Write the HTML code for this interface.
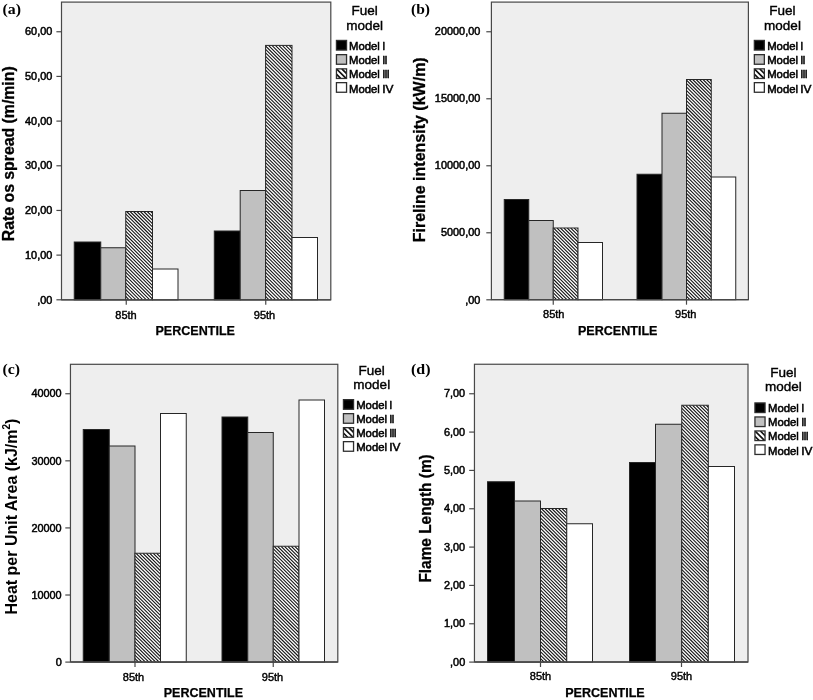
<!DOCTYPE html>
<html lang="en"><head><meta charset="utf-8"><title>Fire behaviour by fuel model</title>
<style>html,body{margin:0;padding:0;background:#fff}svg{display:block}text{font-family:"Liberation Sans", sans-serif;fill:#000}.s{font-family:"Liberation Serif", serif;font-weight:bold}.b{font-weight:bold}</style>
</head><body>
<svg width="813" height="700" viewBox="0 0 813 700">
<rect width="813" height="700" fill="#fff"/>
<g id="chart-a">
<rect x="61.5" y="2.1" width="269.3" height="297.7" fill="#eeeeee" stroke="#484848" stroke-width="1.2"/>
<rect x="74.25" y="242" width="26.5" height="57.8" fill="#000" stroke="#262626" stroke-width="1"/>
<rect x="100.75" y="247.75" width="25" height="52.05" fill="#c0c0c0" stroke="#262626" stroke-width="1"/>
<clipPath id="k1"><rect x="125.75" y="211.5" width="26.75" height="88.3"/></clipPath>
<rect x="125.75" y="211.5" width="26.75" height="88.3" fill="#fff"/>
<path clip-path="url(#k1)" d="M37.45 211.5l88.3 88.3M40.88 211.5l88.3 88.3M44.31 211.5l88.3 88.3M47.74 211.5l88.3 88.3M51.17 211.5l88.3 88.3M54.6 211.5l88.3 88.3M58.03 211.5l88.3 88.3M61.46 211.5l88.3 88.3M64.89 211.5l88.3 88.3M68.32 211.5l88.3 88.3M71.75 211.5l88.3 88.3M75.18 211.5l88.3 88.3M78.61 211.5l88.3 88.3M82.04 211.5l88.3 88.3M85.47 211.5l88.3 88.3M88.9 211.5l88.3 88.3M92.33 211.5l88.3 88.3M95.76 211.5l88.3 88.3M99.19 211.5l88.3 88.3M102.62 211.5l88.3 88.3M106.05 211.5l88.3 88.3M109.48 211.5l88.3 88.3M112.91 211.5l88.3 88.3M116.34 211.5l88.3 88.3M119.77 211.5l88.3 88.3M123.2 211.5l88.3 88.3M126.63 211.5l88.3 88.3M130.06 211.5l88.3 88.3M133.49 211.5l88.3 88.3M136.92 211.5l88.3 88.3M140.35 211.5l88.3 88.3M143.78 211.5l88.3 88.3M147.21 211.5l88.3 88.3M150.64 211.5l88.3 88.3" stroke="#141414" stroke-width="1.08" fill="none"/>
<rect x="125.75" y="211.5" width="26.75" height="88.3" fill="none" stroke="#262626" stroke-width="1"/>
<rect x="152.5" y="269" width="25.5" height="30.8" fill="#fff" stroke="#262626" stroke-width="1"/>
<rect x="214.3" y="231" width="25.9" height="68.8" fill="#000" stroke="#262626" stroke-width="1"/>
<rect x="240.2" y="190.5" width="25.4" height="109.3" fill="#c0c0c0" stroke="#262626" stroke-width="1"/>
<clipPath id="k2"><rect x="265.6" y="45.4" width="26.4" height="254.4"/></clipPath>
<rect x="265.6" y="45.4" width="26.4" height="254.4" fill="#fff"/>
<path clip-path="url(#k2)" d="M11.2 45.4l254.4 254.4M14.63 45.4l254.4 254.4M18.06 45.4l254.4 254.4M21.49 45.4l254.4 254.4M24.92 45.4l254.4 254.4M28.35 45.4l254.4 254.4M31.78 45.4l254.4 254.4M35.21 45.4l254.4 254.4M38.64 45.4l254.4 254.4M42.07 45.4l254.4 254.4M45.5 45.4l254.4 254.4M48.93 45.4l254.4 254.4M52.36 45.4l254.4 254.4M55.79 45.4l254.4 254.4M59.22 45.4l254.4 254.4M62.65 45.4l254.4 254.4M66.08 45.4l254.4 254.4M69.51 45.4l254.4 254.4M72.94 45.4l254.4 254.4M76.37 45.4l254.4 254.4M79.8 45.4l254.4 254.4M83.23 45.4l254.4 254.4M86.66 45.4l254.4 254.4M90.09 45.4l254.4 254.4M93.52 45.4l254.4 254.4M96.95 45.4l254.4 254.4M100.38 45.4l254.4 254.4M103.81 45.4l254.4 254.4M107.24 45.4l254.4 254.4M110.67 45.4l254.4 254.4M114.1 45.4l254.4 254.4M117.53 45.4l254.4 254.4M120.96 45.4l254.4 254.4M124.39 45.4l254.4 254.4M127.82 45.4l254.4 254.4M131.25 45.4l254.4 254.4M134.68 45.4l254.4 254.4M138.11 45.4l254.4 254.4M141.54 45.4l254.4 254.4M144.97 45.4l254.4 254.4M148.4 45.4l254.4 254.4M151.83 45.4l254.4 254.4M155.26 45.4l254.4 254.4M158.69 45.4l254.4 254.4M162.12 45.4l254.4 254.4M165.55 45.4l254.4 254.4M168.98 45.4l254.4 254.4M172.41 45.4l254.4 254.4M175.84 45.4l254.4 254.4M179.27 45.4l254.4 254.4M182.7 45.4l254.4 254.4M186.13 45.4l254.4 254.4M189.56 45.4l254.4 254.4M192.99 45.4l254.4 254.4M196.42 45.4l254.4 254.4M199.85 45.4l254.4 254.4M203.28 45.4l254.4 254.4M206.71 45.4l254.4 254.4M210.14 45.4l254.4 254.4M213.57 45.4l254.4 254.4M217 45.4l254.4 254.4M220.43 45.4l254.4 254.4M223.86 45.4l254.4 254.4M227.29 45.4l254.4 254.4M230.72 45.4l254.4 254.4M234.15 45.4l254.4 254.4M237.58 45.4l254.4 254.4M241.01 45.4l254.4 254.4M244.44 45.4l254.4 254.4M247.87 45.4l254.4 254.4M251.3 45.4l254.4 254.4M254.73 45.4l254.4 254.4M258.16 45.4l254.4 254.4M261.59 45.4l254.4 254.4M265.02 45.4l254.4 254.4M268.45 45.4l254.4 254.4M271.88 45.4l254.4 254.4M275.31 45.4l254.4 254.4M278.74 45.4l254.4 254.4M282.17 45.4l254.4 254.4M285.6 45.4l254.4 254.4M289.03 45.4l254.4 254.4" stroke="#141414" stroke-width="1.08" fill="none"/>
<rect x="265.6" y="45.4" width="26.4" height="254.4" fill="none" stroke="#262626" stroke-width="1"/>
<rect x="292" y="237.5" width="25.5" height="62.3" fill="#fff" stroke="#262626" stroke-width="1"/>
<line x1="61.5" y1="299.8" x2="330.8" y2="299.8" stroke="#484848" stroke-width="1.3"/>
<line x1="56.4" y1="299.8" x2="61.5" y2="299.8" stroke="#484848" stroke-width="1.2"/>
<text x="52.3" y="303.5" font-size="10.9" text-anchor="end" stroke="#000" stroke-width="0.5">,00</text>
<line x1="56.4" y1="255.12" x2="61.5" y2="255.12" stroke="#484848" stroke-width="1.2"/>
<text x="52.3" y="258.82" font-size="10.9" text-anchor="end" stroke="#000" stroke-width="0.5">10,00</text>
<line x1="56.4" y1="210.45" x2="61.5" y2="210.45" stroke="#484848" stroke-width="1.2"/>
<text x="52.3" y="214.15" font-size="10.9" text-anchor="end" stroke="#000" stroke-width="0.5">20,00</text>
<line x1="56.4" y1="165.78" x2="61.5" y2="165.78" stroke="#484848" stroke-width="1.2"/>
<text x="52.3" y="169.48" font-size="10.9" text-anchor="end" stroke="#000" stroke-width="0.5">30,00</text>
<line x1="56.4" y1="121.1" x2="61.5" y2="121.1" stroke="#484848" stroke-width="1.2"/>
<text x="52.3" y="124.8" font-size="10.9" text-anchor="end" stroke="#000" stroke-width="0.5">40,00</text>
<line x1="56.4" y1="76.43" x2="61.5" y2="76.43" stroke="#484848" stroke-width="1.2"/>
<text x="52.3" y="80.13" font-size="10.9" text-anchor="end" stroke="#000" stroke-width="0.5">50,00</text>
<line x1="56.4" y1="31.75" x2="61.5" y2="31.75" stroke="#484848" stroke-width="1.2"/>
<text x="52.3" y="35.45" font-size="10.9" text-anchor="end" stroke="#000" stroke-width="0.5">60,00</text>
<line x1="126.25" y1="299.8" x2="126.25" y2="304.8" stroke="#484848" stroke-width="1.2"/>
<line x1="265.75" y1="299.8" x2="265.75" y2="304.8" stroke="#484848" stroke-width="1.2"/>
<text x="126" y="318.5" font-size="11" text-anchor="middle" stroke="#000" stroke-width="0.42">85th</text>
<text x="264.5" y="318.5" font-size="11" text-anchor="middle" stroke="#000" stroke-width="0.42">95th</text>
<text class="b" x="155.5" y="335.3" font-size="12.5" textLength="79.5" lengthAdjust="spacingAndGlyphs" stroke="#000" stroke-width="0.25">PERCENTILE</text>
<text x="364.6" y="15.3" font-size="13.5" text-anchor="middle" stroke="#000" stroke-width="0.4">Fuel</text>
<text x="364.6" y="29.5" font-size="13.5" text-anchor="middle" stroke="#000" stroke-width="0.4">model</text>
<rect x="336.45" y="40.45" width="10.1" height="9.6" fill="#000" stroke="#2e2e2e" stroke-width="1.3"/>
<text y="50.05" font-size="10.8" stroke="#000" stroke-width="0.5"><tspan x="349.1" textLength="30.8" lengthAdjust="spacingAndGlyphs">Model</tspan> <tspan x="382.2">I</tspan></text>
<rect x="336.45" y="54.65" width="10.1" height="9.6" fill="#c0c0c0" stroke="#2e2e2e" stroke-width="1.3"/>
<text y="64.15" font-size="10.8" stroke="#000" stroke-width="0.5"><tspan x="349.1" textLength="30.8" lengthAdjust="spacingAndGlyphs">Model</tspan> <tspan x="382.2" letter-spacing="-0.72">II</tspan></text>
<clipPath id="k3"><rect x="336.45" y="68.85" width="10.1" height="9.6"/></clipPath>
<rect x="336.45" y="68.85" width="10.1" height="9.6" fill="#fff"/>
<path clip-path="url(#k3)" d="M325.65 68.85l9.6 9.6M331.05 68.85l9.6 9.6M336.45 68.85l9.6 9.6M341.85 68.85l9.6 9.6" stroke="#141414" stroke-width="1.7" fill="none"/>
<rect x="336.45" y="68.85" width="10.1" height="9.6" fill="none" stroke="#2e2e2e" stroke-width="1.3"/>
<text y="78.3" font-size="10.8" stroke="#000" stroke-width="0.5"><tspan x="349.1" textLength="30.8" lengthAdjust="spacingAndGlyphs">Model</tspan> <tspan x="382.2" letter-spacing="-0.75">III</tspan></text>
<rect x="336.45" y="82.65" width="10.1" height="9.6" fill="#fff" stroke="#2e2e2e" stroke-width="1.3"/>
<text y="92.6" font-size="10.8" stroke="#000" stroke-width="0.5"><tspan x="349.1" textLength="30.8" lengthAdjust="spacingAndGlyphs">Model</tspan> <tspan x="382.2" textLength="11.2" lengthAdjust="spacingAndGlyphs">IV</tspan></text>
<text class="b" transform="translate(13.9 241.2) rotate(-90)" font-size="16" textLength="174.9" lengthAdjust="spacingAndGlyphs" stroke="#000" stroke-width="0.3">Rate os spread (m/min)</text>
<text class="s" x="2.5" y="13.5" font-size="15.5" textLength="18.5" lengthAdjust="spacingAndGlyphs">(a)</text>
</g>
<g id="chart-b">
<rect x="491.4" y="2.1" width="257" height="297.6" fill="#eeeeee" stroke="#484848" stroke-width="1.2"/>
<rect x="504.25" y="199.5" width="24.5" height="100.2" fill="#000" stroke="#262626" stroke-width="1"/>
<rect x="528.75" y="220.5" width="24.5" height="79.2" fill="#c0c0c0" stroke="#262626" stroke-width="1"/>
<clipPath id="k4"><rect x="553.25" y="228" width="24.75" height="71.7"/></clipPath>
<rect x="553.25" y="228" width="24.75" height="71.7" fill="#fff"/>
<path clip-path="url(#k4)" d="M481.55 228l71.7 71.7M484.98 228l71.7 71.7M488.41 228l71.7 71.7M491.84 228l71.7 71.7M495.27 228l71.7 71.7M498.7 228l71.7 71.7M502.13 228l71.7 71.7M505.56 228l71.7 71.7M508.99 228l71.7 71.7M512.42 228l71.7 71.7M515.85 228l71.7 71.7M519.28 228l71.7 71.7M522.71 228l71.7 71.7M526.14 228l71.7 71.7M529.57 228l71.7 71.7M533 228l71.7 71.7M536.43 228l71.7 71.7M539.86 228l71.7 71.7M543.29 228l71.7 71.7M546.72 228l71.7 71.7M550.15 228l71.7 71.7M553.58 228l71.7 71.7M557.01 228l71.7 71.7M560.44 228l71.7 71.7M563.87 228l71.7 71.7M567.3 228l71.7 71.7M570.73 228l71.7 71.7M574.16 228l71.7 71.7M577.59 228l71.7 71.7" stroke="#141414" stroke-width="1.08" fill="none"/>
<rect x="553.25" y="228" width="24.75" height="71.7" fill="none" stroke="#262626" stroke-width="1"/>
<rect x="578" y="242.5" width="24.5" height="57.2" fill="#fff" stroke="#262626" stroke-width="1"/>
<rect x="637" y="174.25" width="25" height="125.45" fill="#000" stroke="#262626" stroke-width="1"/>
<rect x="662" y="113.25" width="24.5" height="186.45" fill="#c0c0c0" stroke="#262626" stroke-width="1"/>
<clipPath id="k5"><rect x="686.5" y="79.5" width="24.75" height="220.2"/></clipPath>
<rect x="686.5" y="79.5" width="24.75" height="220.2" fill="#fff"/>
<path clip-path="url(#k5)" d="M466.3 79.5l220.2 220.2M469.73 79.5l220.2 220.2M473.16 79.5l220.2 220.2M476.59 79.5l220.2 220.2M480.02 79.5l220.2 220.2M483.45 79.5l220.2 220.2M486.88 79.5l220.2 220.2M490.31 79.5l220.2 220.2M493.74 79.5l220.2 220.2M497.17 79.5l220.2 220.2M500.6 79.5l220.2 220.2M504.03 79.5l220.2 220.2M507.46 79.5l220.2 220.2M510.89 79.5l220.2 220.2M514.32 79.5l220.2 220.2M517.75 79.5l220.2 220.2M521.18 79.5l220.2 220.2M524.61 79.5l220.2 220.2M528.04 79.5l220.2 220.2M531.47 79.5l220.2 220.2M534.9 79.5l220.2 220.2M538.33 79.5l220.2 220.2M541.76 79.5l220.2 220.2M545.19 79.5l220.2 220.2M548.62 79.5l220.2 220.2M552.05 79.5l220.2 220.2M555.48 79.5l220.2 220.2M558.91 79.5l220.2 220.2M562.34 79.5l220.2 220.2M565.77 79.5l220.2 220.2M569.2 79.5l220.2 220.2M572.63 79.5l220.2 220.2M576.06 79.5l220.2 220.2M579.49 79.5l220.2 220.2M582.92 79.5l220.2 220.2M586.35 79.5l220.2 220.2M589.78 79.5l220.2 220.2M593.21 79.5l220.2 220.2M596.64 79.5l220.2 220.2M600.07 79.5l220.2 220.2M603.5 79.5l220.2 220.2M606.93 79.5l220.2 220.2M610.36 79.5l220.2 220.2M613.79 79.5l220.2 220.2M617.22 79.5l220.2 220.2M620.65 79.5l220.2 220.2M624.08 79.5l220.2 220.2M627.51 79.5l220.2 220.2M630.94 79.5l220.2 220.2M634.37 79.5l220.2 220.2M637.8 79.5l220.2 220.2M641.23 79.5l220.2 220.2M644.66 79.5l220.2 220.2M648.09 79.5l220.2 220.2M651.52 79.5l220.2 220.2M654.95 79.5l220.2 220.2M658.38 79.5l220.2 220.2M661.81 79.5l220.2 220.2M665.24 79.5l220.2 220.2M668.67 79.5l220.2 220.2M672.1 79.5l220.2 220.2M675.53 79.5l220.2 220.2M678.96 79.5l220.2 220.2M682.39 79.5l220.2 220.2M685.82 79.5l220.2 220.2M689.25 79.5l220.2 220.2M692.68 79.5l220.2 220.2M696.11 79.5l220.2 220.2M699.54 79.5l220.2 220.2M702.97 79.5l220.2 220.2M706.4 79.5l220.2 220.2M709.83 79.5l220.2 220.2" stroke="#141414" stroke-width="1.08" fill="none"/>
<rect x="686.5" y="79.5" width="24.75" height="220.2" fill="none" stroke="#262626" stroke-width="1"/>
<rect x="711.25" y="177" width="24.5" height="122.7" fill="#fff" stroke="#262626" stroke-width="1"/>
<line x1="491.4" y1="299.7" x2="748.4" y2="299.7" stroke="#484848" stroke-width="1.3"/>
<line x1="486.3" y1="299.8" x2="491.4" y2="299.8" stroke="#484848" stroke-width="1.2"/>
<text x="480.3" y="303.5" font-size="10.9" text-anchor="end" stroke="#000" stroke-width="0.5">,00</text>
<line x1="486.3" y1="232.79" x2="491.4" y2="232.79" stroke="#484848" stroke-width="1.2"/>
<text x="480.3" y="236.49" font-size="10.9" text-anchor="end" stroke="#000" stroke-width="0.5">5000,00</text>
<line x1="486.3" y1="165.78" x2="491.4" y2="165.78" stroke="#484848" stroke-width="1.2"/>
<text x="480.3" y="169.48" font-size="10.9" text-anchor="end" stroke="#000" stroke-width="0.5">10000,00</text>
<line x1="486.3" y1="98.77" x2="491.4" y2="98.77" stroke="#484848" stroke-width="1.2"/>
<text x="480.3" y="102.47" font-size="10.9" text-anchor="end" stroke="#000" stroke-width="0.5">15000,00</text>
<line x1="486.3" y1="31.76" x2="491.4" y2="31.76" stroke="#484848" stroke-width="1.2"/>
<text x="480.3" y="35.46" font-size="10.9" text-anchor="end" stroke="#000" stroke-width="0.5">20000,00</text>
<line x1="553.25" y1="299.7" x2="553.25" y2="304.7" stroke="#484848" stroke-width="1.2"/>
<line x1="686.5" y1="299.7" x2="686.5" y2="304.7" stroke="#484848" stroke-width="1.2"/>
<text x="553.75" y="317.8" font-size="11" text-anchor="middle" stroke="#000" stroke-width="0.42">85th</text>
<text x="685.75" y="317.8" font-size="11" text-anchor="middle" stroke="#000" stroke-width="0.42">95th</text>
<text class="b" x="578" y="335.3" font-size="12.5" textLength="79.5" lengthAdjust="spacingAndGlyphs" stroke="#000" stroke-width="0.25">PERCENTILE</text>
<text x="782.5" y="15.3" font-size="13.5" text-anchor="middle" stroke="#000" stroke-width="0.4">Fuel</text>
<text x="782.5" y="29.5" font-size="13.5" text-anchor="middle" stroke="#000" stroke-width="0.4">model</text>
<rect x="754.35" y="40.45" width="10" height="9.6" fill="#000" stroke="#2e2e2e" stroke-width="1.3"/>
<text y="50.05" font-size="10.8" stroke="#000" stroke-width="0.5"><tspan x="767.2" textLength="30.8" lengthAdjust="spacingAndGlyphs">Model</tspan> <tspan x="800.3">I</tspan></text>
<rect x="754.35" y="54.65" width="10" height="9.6" fill="#c0c0c0" stroke="#2e2e2e" stroke-width="1.3"/>
<text y="64.15" font-size="10.8" stroke="#000" stroke-width="0.5"><tspan x="767.2" textLength="30.8" lengthAdjust="spacingAndGlyphs">Model</tspan> <tspan x="800.3" letter-spacing="-0.72">II</tspan></text>
<clipPath id="k6"><rect x="754.35" y="68.85" width="10" height="9.6"/></clipPath>
<rect x="754.35" y="68.85" width="10" height="9.6" fill="#fff"/>
<path clip-path="url(#k6)" d="M743.55 68.85l9.6 9.6M748.95 68.85l9.6 9.6M754.35 68.85l9.6 9.6M759.75 68.85l9.6 9.6" stroke="#141414" stroke-width="1.7" fill="none"/>
<rect x="754.35" y="68.85" width="10" height="9.6" fill="none" stroke="#2e2e2e" stroke-width="1.3"/>
<text y="78.3" font-size="10.8" stroke="#000" stroke-width="0.5"><tspan x="767.2" textLength="30.8" lengthAdjust="spacingAndGlyphs">Model</tspan> <tspan x="800.3" letter-spacing="-0.75">III</tspan></text>
<rect x="754.35" y="82.65" width="10" height="9.6" fill="#fff" stroke="#2e2e2e" stroke-width="1.3"/>
<text y="92.6" font-size="10.8" stroke="#000" stroke-width="0.5"><tspan x="767.2" textLength="30.8" lengthAdjust="spacingAndGlyphs">Model</tspan> <tspan x="800.3" textLength="11.2" lengthAdjust="spacingAndGlyphs">IV</tspan></text>
<text class="b" transform="translate(425 242.3) rotate(-90)" font-size="16" textLength="185" lengthAdjust="spacingAndGlyphs" stroke="#000" stroke-width="0.3">Fireline intensity (kW/m)</text>
<text class="s" x="411" y="13.5" font-size="15.5" textLength="19" lengthAdjust="spacingAndGlyphs">(b)</text>
</g>
<g id="chart-c">
<rect x="70.45" y="364.3" width="267.35" height="297.7" fill="#eeeeee" stroke="#484848" stroke-width="1.2"/>
<rect x="83.25" y="429.5" width="26" height="232.5" fill="#000" stroke="#262626" stroke-width="1"/>
<rect x="109.25" y="446" width="25.75" height="216" fill="#c0c0c0" stroke="#262626" stroke-width="1"/>
<clipPath id="k7"><rect x="135" y="553.25" width="25.5" height="108.75"/></clipPath>
<rect x="135" y="553.25" width="25.5" height="108.75" fill="#fff"/>
<path clip-path="url(#k7)" d="M26.25 553.25l108.75 108.75M29.68 553.25l108.75 108.75M33.11 553.25l108.75 108.75M36.54 553.25l108.75 108.75M39.97 553.25l108.75 108.75M43.4 553.25l108.75 108.75M46.83 553.25l108.75 108.75M50.26 553.25l108.75 108.75M53.69 553.25l108.75 108.75M57.12 553.25l108.75 108.75M60.55 553.25l108.75 108.75M63.98 553.25l108.75 108.75M67.41 553.25l108.75 108.75M70.84 553.25l108.75 108.75M74.27 553.25l108.75 108.75M77.7 553.25l108.75 108.75M81.13 553.25l108.75 108.75M84.56 553.25l108.75 108.75M87.99 553.25l108.75 108.75M91.42 553.25l108.75 108.75M94.85 553.25l108.75 108.75M98.28 553.25l108.75 108.75M101.71 553.25l108.75 108.75M105.14 553.25l108.75 108.75M108.57 553.25l108.75 108.75M112 553.25l108.75 108.75M115.43 553.25l108.75 108.75M118.86 553.25l108.75 108.75M122.29 553.25l108.75 108.75M125.72 553.25l108.75 108.75M129.15 553.25l108.75 108.75M132.58 553.25l108.75 108.75M136.01 553.25l108.75 108.75M139.44 553.25l108.75 108.75M142.87 553.25l108.75 108.75M146.3 553.25l108.75 108.75M149.73 553.25l108.75 108.75M153.16 553.25l108.75 108.75M156.59 553.25l108.75 108.75M160.02 553.25l108.75 108.75" stroke="#141414" stroke-width="1.08" fill="none"/>
<rect x="135" y="553.25" width="25.5" height="108.75" fill="none" stroke="#262626" stroke-width="1"/>
<rect x="160.5" y="413.5" width="25.75" height="248.5" fill="#fff" stroke="#262626" stroke-width="1"/>
<rect x="222" y="417" width="25.75" height="245" fill="#000" stroke="#262626" stroke-width="1"/>
<rect x="247.75" y="432.5" width="25.5" height="229.5" fill="#c0c0c0" stroke="#262626" stroke-width="1"/>
<clipPath id="k8"><rect x="273.25" y="546.25" width="25.75" height="115.75"/></clipPath>
<rect x="273.25" y="546.25" width="25.75" height="115.75" fill="#fff"/>
<path clip-path="url(#k8)" d="M157.5 546.25l115.75 115.75M160.93 546.25l115.75 115.75M164.36 546.25l115.75 115.75M167.79 546.25l115.75 115.75M171.22 546.25l115.75 115.75M174.65 546.25l115.75 115.75M178.08 546.25l115.75 115.75M181.51 546.25l115.75 115.75M184.94 546.25l115.75 115.75M188.37 546.25l115.75 115.75M191.8 546.25l115.75 115.75M195.23 546.25l115.75 115.75M198.66 546.25l115.75 115.75M202.09 546.25l115.75 115.75M205.52 546.25l115.75 115.75M208.95 546.25l115.75 115.75M212.38 546.25l115.75 115.75M215.81 546.25l115.75 115.75M219.24 546.25l115.75 115.75M222.67 546.25l115.75 115.75M226.1 546.25l115.75 115.75M229.53 546.25l115.75 115.75M232.96 546.25l115.75 115.75M236.39 546.25l115.75 115.75M239.82 546.25l115.75 115.75M243.25 546.25l115.75 115.75M246.68 546.25l115.75 115.75M250.11 546.25l115.75 115.75M253.54 546.25l115.75 115.75M256.97 546.25l115.75 115.75M260.4 546.25l115.75 115.75M263.83 546.25l115.75 115.75M267.26 546.25l115.75 115.75M270.69 546.25l115.75 115.75M274.12 546.25l115.75 115.75M277.55 546.25l115.75 115.75M280.98 546.25l115.75 115.75M284.41 546.25l115.75 115.75M287.84 546.25l115.75 115.75M291.27 546.25l115.75 115.75M294.7 546.25l115.75 115.75M298.13 546.25l115.75 115.75" stroke="#141414" stroke-width="1.08" fill="none"/>
<rect x="273.25" y="546.25" width="25.75" height="115.75" fill="none" stroke="#262626" stroke-width="1"/>
<rect x="299" y="400" width="25.5" height="262" fill="#fff" stroke="#262626" stroke-width="1"/>
<line x1="70.45" y1="662" x2="337.8" y2="662" stroke="#484848" stroke-width="1.3"/>
<line x1="65.3" y1="662.1" x2="70.45" y2="662.1" stroke="#484848" stroke-width="1.2"/>
<text x="61.7" y="665.8" font-size="10.9" text-anchor="end" stroke="#000" stroke-width="0.5">0</text>
<line x1="65.3" y1="595.01" x2="70.45" y2="595.01" stroke="#484848" stroke-width="1.2"/>
<text x="61.7" y="598.71" font-size="10.9" text-anchor="end" stroke="#000" stroke-width="0.5">10000</text>
<line x1="65.3" y1="527.92" x2="70.45" y2="527.92" stroke="#484848" stroke-width="1.2"/>
<text x="61.7" y="531.62" font-size="10.9" text-anchor="end" stroke="#000" stroke-width="0.5">20000</text>
<line x1="65.3" y1="460.83" x2="70.45" y2="460.83" stroke="#484848" stroke-width="1.2"/>
<text x="61.7" y="464.53" font-size="10.9" text-anchor="end" stroke="#000" stroke-width="0.5">30000</text>
<line x1="65.3" y1="393.74" x2="70.45" y2="393.74" stroke="#484848" stroke-width="1.2"/>
<text x="61.7" y="397.44" font-size="10.9" text-anchor="end" stroke="#000" stroke-width="0.5">40000</text>
<line x1="135" y1="662" x2="135" y2="667" stroke="#484848" stroke-width="1.2"/>
<line x1="273.25" y1="662" x2="273.25" y2="667" stroke="#484848" stroke-width="1.2"/>
<text x="133.5" y="680.75" font-size="11" text-anchor="middle" stroke="#000" stroke-width="0.42">85th</text>
<text x="272.5" y="680.75" font-size="11" text-anchor="middle" stroke="#000" stroke-width="0.42">95th</text>
<text class="b" x="163.75" y="697.3" font-size="12.5" textLength="79.25" lengthAdjust="spacingAndGlyphs" stroke="#000" stroke-width="0.25">PERCENTILE</text>
<text x="371.75" y="374.5" font-size="13.5" text-anchor="middle" stroke="#000" stroke-width="0.4">Fuel</text>
<text x="371.75" y="388.5" font-size="13.5" text-anchor="middle" stroke="#000" stroke-width="0.4">model</text>
<rect x="343.45" y="399.65" width="10.1" height="9.6" fill="#000" stroke="#2e2e2e" stroke-width="1.3"/>
<text y="408.8" font-size="10.8" stroke="#000" stroke-width="0.5"><tspan x="356.2" textLength="30.8" lengthAdjust="spacingAndGlyphs">Model</tspan> <tspan x="389.3">I</tspan></text>
<rect x="343.45" y="413.65" width="10.1" height="9.6" fill="#c0c0c0" stroke="#2e2e2e" stroke-width="1.3"/>
<text y="422.9" font-size="10.8" stroke="#000" stroke-width="0.5"><tspan x="356.2" textLength="30.8" lengthAdjust="spacingAndGlyphs">Model</tspan> <tspan x="389.3" letter-spacing="-0.72">II</tspan></text>
<clipPath id="k9"><rect x="343.45" y="427.65" width="10.1" height="9.6"/></clipPath>
<rect x="343.45" y="427.65" width="10.1" height="9.6" fill="#fff"/>
<path clip-path="url(#k9)" d="M332.65 427.65l9.6 9.6M338.05 427.65l9.6 9.6M343.45 427.65l9.6 9.6M348.85 427.65l9.6 9.6" stroke="#141414" stroke-width="1.7" fill="none"/>
<rect x="343.45" y="427.65" width="10.1" height="9.6" fill="none" stroke="#2e2e2e" stroke-width="1.3"/>
<text y="437.2" font-size="10.8" stroke="#000" stroke-width="0.5"><tspan x="356.2" textLength="30.8" lengthAdjust="spacingAndGlyphs">Model</tspan> <tspan x="389.3" letter-spacing="-0.75">III</tspan></text>
<rect x="343.45" y="441.65" width="10.1" height="9.6" fill="#fff" stroke="#2e2e2e" stroke-width="1.3"/>
<text y="451.4" font-size="10.8" stroke="#000" stroke-width="0.5"><tspan x="356.2" textLength="30.8" lengthAdjust="spacingAndGlyphs">Model</tspan> <tspan x="389.3" textLength="11.2" lengthAdjust="spacingAndGlyphs">IV</tspan></text>
<text class="b" transform="translate(17.4 614.5) rotate(-90)" font-size="16" textLength="195.9" lengthAdjust="spacingAndGlyphs">Heat per Unit Area (kJ/m<tspan font-size="10" dy="-7.6">2</tspan><tspan dy="7.6">)</tspan></text>
<text class="s" x="2.5" y="373.5" font-size="15.5" textLength="17.5" lengthAdjust="spacingAndGlyphs">(c)</text>
</g>
<g id="chart-d">
<rect x="474.45" y="364.25" width="273.55" height="297.75" fill="#eeeeee" stroke="#484848" stroke-width="1.2"/>
<rect x="487.5" y="481.75" width="27" height="180.25" fill="#000" stroke="#262626" stroke-width="1"/>
<rect x="514.5" y="501" width="26" height="161" fill="#c0c0c0" stroke="#262626" stroke-width="1"/>
<clipPath id="k10"><rect x="540.5" y="508.5" width="26.25" height="153.5"/></clipPath>
<rect x="540.5" y="508.5" width="26.25" height="153.5" fill="#fff"/>
<path clip-path="url(#k10)" d="M387 508.5l153.5 153.5M390.43 508.5l153.5 153.5M393.86 508.5l153.5 153.5M397.29 508.5l153.5 153.5M400.72 508.5l153.5 153.5M404.15 508.5l153.5 153.5M407.58 508.5l153.5 153.5M411.01 508.5l153.5 153.5M414.44 508.5l153.5 153.5M417.87 508.5l153.5 153.5M421.3 508.5l153.5 153.5M424.73 508.5l153.5 153.5M428.16 508.5l153.5 153.5M431.59 508.5l153.5 153.5M435.02 508.5l153.5 153.5M438.45 508.5l153.5 153.5M441.88 508.5l153.5 153.5M445.31 508.5l153.5 153.5M448.74 508.5l153.5 153.5M452.17 508.5l153.5 153.5M455.6 508.5l153.5 153.5M459.03 508.5l153.5 153.5M462.46 508.5l153.5 153.5M465.89 508.5l153.5 153.5M469.32 508.5l153.5 153.5M472.75 508.5l153.5 153.5M476.18 508.5l153.5 153.5M479.61 508.5l153.5 153.5M483.04 508.5l153.5 153.5M486.47 508.5l153.5 153.5M489.9 508.5l153.5 153.5M493.33 508.5l153.5 153.5M496.76 508.5l153.5 153.5M500.19 508.5l153.5 153.5M503.62 508.5l153.5 153.5M507.05 508.5l153.5 153.5M510.48 508.5l153.5 153.5M513.91 508.5l153.5 153.5M517.34 508.5l153.5 153.5M520.77 508.5l153.5 153.5M524.2 508.5l153.5 153.5M527.63 508.5l153.5 153.5M531.06 508.5l153.5 153.5M534.49 508.5l153.5 153.5M537.92 508.5l153.5 153.5M541.35 508.5l153.5 153.5M544.78 508.5l153.5 153.5M548.21 508.5l153.5 153.5M551.64 508.5l153.5 153.5M555.07 508.5l153.5 153.5M558.5 508.5l153.5 153.5M561.93 508.5l153.5 153.5M565.36 508.5l153.5 153.5" stroke="#141414" stroke-width="1.08" fill="none"/>
<rect x="540.5" y="508.5" width="26.25" height="153.5" fill="none" stroke="#262626" stroke-width="1"/>
<rect x="566.75" y="523.75" width="25.75" height="138.25" fill="#fff" stroke="#262626" stroke-width="1"/>
<rect x="629.5" y="462.5" width="26" height="199.5" fill="#000" stroke="#262626" stroke-width="1"/>
<rect x="655.5" y="424.25" width="26.25" height="237.75" fill="#c0c0c0" stroke="#262626" stroke-width="1"/>
<clipPath id="k11"><rect x="681.75" y="405.25" width="26.55" height="256.75"/></clipPath>
<rect x="681.75" y="405.25" width="26.55" height="256.75" fill="#fff"/>
<path clip-path="url(#k11)" d="M425 405.25l256.75 256.75M428.43 405.25l256.75 256.75M431.86 405.25l256.75 256.75M435.29 405.25l256.75 256.75M438.72 405.25l256.75 256.75M442.15 405.25l256.75 256.75M445.58 405.25l256.75 256.75M449.01 405.25l256.75 256.75M452.44 405.25l256.75 256.75M455.87 405.25l256.75 256.75M459.3 405.25l256.75 256.75M462.73 405.25l256.75 256.75M466.16 405.25l256.75 256.75M469.59 405.25l256.75 256.75M473.02 405.25l256.75 256.75M476.45 405.25l256.75 256.75M479.88 405.25l256.75 256.75M483.31 405.25l256.75 256.75M486.74 405.25l256.75 256.75M490.17 405.25l256.75 256.75M493.6 405.25l256.75 256.75M497.03 405.25l256.75 256.75M500.46 405.25l256.75 256.75M503.89 405.25l256.75 256.75M507.32 405.25l256.75 256.75M510.75 405.25l256.75 256.75M514.18 405.25l256.75 256.75M517.61 405.25l256.75 256.75M521.04 405.25l256.75 256.75M524.47 405.25l256.75 256.75M527.9 405.25l256.75 256.75M531.33 405.25l256.75 256.75M534.76 405.25l256.75 256.75M538.19 405.25l256.75 256.75M541.62 405.25l256.75 256.75M545.05 405.25l256.75 256.75M548.48 405.25l256.75 256.75M551.91 405.25l256.75 256.75M555.34 405.25l256.75 256.75M558.77 405.25l256.75 256.75M562.2 405.25l256.75 256.75M565.63 405.25l256.75 256.75M569.06 405.25l256.75 256.75M572.49 405.25l256.75 256.75M575.92 405.25l256.75 256.75M579.35 405.25l256.75 256.75M582.78 405.25l256.75 256.75M586.21 405.25l256.75 256.75M589.64 405.25l256.75 256.75M593.07 405.25l256.75 256.75M596.5 405.25l256.75 256.75M599.93 405.25l256.75 256.75M603.36 405.25l256.75 256.75M606.79 405.25l256.75 256.75M610.22 405.25l256.75 256.75M613.65 405.25l256.75 256.75M617.08 405.25l256.75 256.75M620.51 405.25l256.75 256.75M623.94 405.25l256.75 256.75M627.37 405.25l256.75 256.75M630.8 405.25l256.75 256.75M634.23 405.25l256.75 256.75M637.66 405.25l256.75 256.75M641.09 405.25l256.75 256.75M644.52 405.25l256.75 256.75M647.95 405.25l256.75 256.75M651.38 405.25l256.75 256.75M654.81 405.25l256.75 256.75M658.24 405.25l256.75 256.75M661.67 405.25l256.75 256.75M665.1 405.25l256.75 256.75M668.53 405.25l256.75 256.75M671.96 405.25l256.75 256.75M675.39 405.25l256.75 256.75M678.82 405.25l256.75 256.75M682.25 405.25l256.75 256.75M685.68 405.25l256.75 256.75M689.11 405.25l256.75 256.75M692.54 405.25l256.75 256.75M695.97 405.25l256.75 256.75M699.4 405.25l256.75 256.75M702.83 405.25l256.75 256.75M706.26 405.25l256.75 256.75" stroke="#141414" stroke-width="1.08" fill="none"/>
<rect x="681.75" y="405.25" width="26.55" height="256.75" fill="none" stroke="#262626" stroke-width="1"/>
<rect x="708.3" y="466.5" width="26.2" height="195.5" fill="#fff" stroke="#262626" stroke-width="1"/>
<line x1="474.45" y1="662" x2="748" y2="662" stroke="#484848" stroke-width="1.3"/>
<line x1="469.2" y1="662.1" x2="474.45" y2="662.1" stroke="#484848" stroke-width="1.2"/>
<text x="465.2" y="665.8" font-size="10.9" text-anchor="end" stroke="#000" stroke-width="0.5">,00</text>
<line x1="469.2" y1="623.76" x2="474.45" y2="623.76" stroke="#484848" stroke-width="1.2"/>
<text x="465.2" y="627.46" font-size="10.9" text-anchor="end" stroke="#000" stroke-width="0.5">1,00</text>
<line x1="469.2" y1="585.43" x2="474.45" y2="585.43" stroke="#484848" stroke-width="1.2"/>
<text x="465.2" y="589.13" font-size="10.9" text-anchor="end" stroke="#000" stroke-width="0.5">2,00</text>
<line x1="469.2" y1="547.09" x2="474.45" y2="547.09" stroke="#484848" stroke-width="1.2"/>
<text x="465.2" y="550.79" font-size="10.9" text-anchor="end" stroke="#000" stroke-width="0.5">3,00</text>
<line x1="469.2" y1="508.76" x2="474.45" y2="508.76" stroke="#484848" stroke-width="1.2"/>
<text x="465.2" y="512.46" font-size="10.9" text-anchor="end" stroke="#000" stroke-width="0.5">4,00</text>
<line x1="469.2" y1="470.42" x2="474.45" y2="470.42" stroke="#484848" stroke-width="1.2"/>
<text x="465.2" y="474.12" font-size="10.9" text-anchor="end" stroke="#000" stroke-width="0.5">5,00</text>
<line x1="469.2" y1="432.08" x2="474.45" y2="432.08" stroke="#484848" stroke-width="1.2"/>
<text x="465.2" y="435.78" font-size="10.9" text-anchor="end" stroke="#000" stroke-width="0.5">6,00</text>
<line x1="469.2" y1="393.75" x2="474.45" y2="393.75" stroke="#484848" stroke-width="1.2"/>
<text x="465.2" y="397.45" font-size="10.9" text-anchor="end" stroke="#000" stroke-width="0.5">7,00</text>
<line x1="540.5" y1="662" x2="540.5" y2="667" stroke="#484848" stroke-width="1.2"/>
<line x1="681.5" y1="662" x2="681.5" y2="667" stroke="#484848" stroke-width="1.2"/>
<text x="540.5" y="679.9" font-size="11" text-anchor="middle" stroke="#000" stroke-width="0.42">85th</text>
<text x="681.5" y="679.9" font-size="11" text-anchor="middle" stroke="#000" stroke-width="0.42">95th</text>
<text class="b" x="565.2" y="697.3" font-size="12.5" textLength="79.5" lengthAdjust="spacingAndGlyphs" stroke="#000" stroke-width="0.25">PERCENTILE</text>
<text x="783.4" y="377.25" font-size="13.5" text-anchor="middle" stroke="#000" stroke-width="0.4">Fuel</text>
<text x="783.4" y="391.4" font-size="13.5" text-anchor="middle" stroke="#000" stroke-width="0.4">model</text>
<rect x="754.95" y="402.95" width="10.1" height="9.6" fill="#000" stroke="#2e2e2e" stroke-width="1.3"/>
<text y="412.1" font-size="10.8" stroke="#000" stroke-width="0.5"><tspan x="768.1" textLength="30.8" lengthAdjust="spacingAndGlyphs">Model</tspan> <tspan x="801.2">I</tspan></text>
<rect x="754.95" y="416.95" width="10.1" height="9.6" fill="#c0c0c0" stroke="#2e2e2e" stroke-width="1.3"/>
<text y="426.15" font-size="10.8" stroke="#000" stroke-width="0.5"><tspan x="768.1" textLength="30.8" lengthAdjust="spacingAndGlyphs">Model</tspan> <tspan x="801.2" letter-spacing="-0.72">II</tspan></text>
<clipPath id="k12"><rect x="754.95" y="430.95" width="10.1" height="9.6"/></clipPath>
<rect x="754.95" y="430.95" width="10.1" height="9.6" fill="#fff"/>
<path clip-path="url(#k12)" d="M744.15 430.95l9.6 9.6M749.55 430.95l9.6 9.6M754.95 430.95l9.6 9.6M760.35 430.95l9.6 9.6" stroke="#141414" stroke-width="1.7" fill="none"/>
<rect x="754.95" y="430.95" width="10.1" height="9.6" fill="none" stroke="#2e2e2e" stroke-width="1.3"/>
<text y="440.3" font-size="10.8" stroke="#000" stroke-width="0.5"><tspan x="768.1" textLength="30.8" lengthAdjust="spacingAndGlyphs">Model</tspan> <tspan x="801.2" letter-spacing="-0.75">III</tspan></text>
<rect x="754.95" y="444.85" width="10.1" height="9.6" fill="#fff" stroke="#2e2e2e" stroke-width="1.3"/>
<text y="454.5" font-size="10.8" stroke="#000" stroke-width="0.5"><tspan x="768.1" textLength="30.8" lengthAdjust="spacingAndGlyphs">Model</tspan> <tspan x="801.2" textLength="11.2" lengthAdjust="spacingAndGlyphs">IV</tspan></text>
<text class="b" transform="translate(431.1 582.6) rotate(-90)" font-size="16" textLength="128.3" lengthAdjust="spacingAndGlyphs" stroke="#000" stroke-width="0.3">Flame Length (m)</text>
<text class="s" x="411" y="373.5" font-size="15.5" textLength="19.5" lengthAdjust="spacingAndGlyphs">(d)</text>
</g>
</svg></body></html>
